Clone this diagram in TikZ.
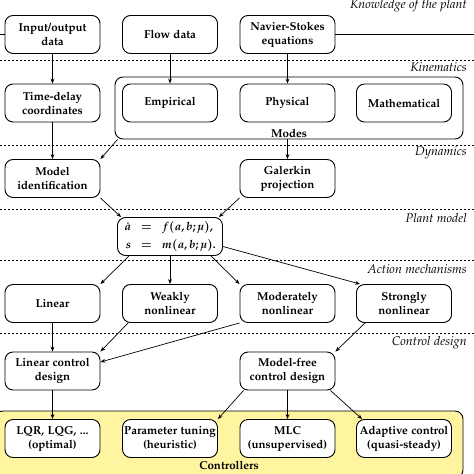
\documentclass[tikz,border=0pt]{standalone}
\usepackage[T1]{fontenc}
\usepackage[sc]{mathpazo}
\usetikzlibrary{arrows.meta}
\definecolor{ctrlyellow}{RGB}{255,245,160}
\begin{document}
\begin{tikzpicture}[x=1pt,y=-1pt,
  box/.style={draw,line width=0.9pt,rounded corners=8pt,fill=white,
    minimum width=95pt,minimum height=38pt,align=center,inner sep=1pt,
    font=\fontsize{11.5}{14}\selectfont\bfseries},
  group/.style={draw,line width=0.9pt,rounded corners=8pt,inner sep=0pt},
  layer/.style={anchor=east,inner sep=0pt,font=\fontsize{12.5}{14}\selectfont\itshape},
  sep/.style={line width=0.8pt,dash pattern=on 2.4pt off 1.6pt},
  arr/.style={-{Stealth[length=5pt,width=3.8pt]},line width=0.7pt}]
\useasboundingbox (0,0) rectangle (474,474);

\coordinate (inL) at (0,34.5);
\coordinate (outR) at (474,34.5);

% layers
\foreach \y in {60,145,209,260,333}
  \draw[sep] (0,\y) -- (474,\y);

\node[layer] (lknow) at (467,6) {Knowledge of the plant};
\node[layer] (lkin) at (467,67) {Kinematics};
\node[layer] (ldyn) at (467,153) {Dynamics};
\node[layer] (lplant) at (467,218) {Plant model};
\node[layer] (lact) at (467,269) {Action mechanisms};
\node[layer] (lctrl) at (467,343) {Control design};

% groups
\node[group,minimum width=348pt,minimum height=62pt] (modes) at (289,108) {};
\node[anchor=south,inner sep=2pt,font=\fontsize{11.5}{14}\selectfont\bfseries] (modeslbl) at (modes.south) {Modes};
\node[group,fill=ctrlyellow,minimum width=468pt,minimum height=67pt] (ctrl) at (229,444.5) {};
\node[font=\fontsize{11.5}{14}\selectfont\bfseries] (ctrllbl) at (229,465) {Controllers};

% boxes
\node[box] (io) at (52.5,34.5) {Input/output\\data};
\node[box] (flow) at (170,34.5) {Flow data};
\node[box] (ns) at (287.5,34.5) {Navier-Stokes\\equations};

\node[box] (td) at (52.5,103) {Time-delay\\coordinates};
\node[box] (emp) at (170,103) {Empirical};
\node[box] (phys) at (287.5,103) {Physical};
\node[box] (math) at (404,103) {Mathematical};

\node[box] (mid) at (52.5,178.5) {Model\\identification};
\node[box] (gal) at (287.5,178.5) {Galerkin\\projection};

\node[box,minimum width=105pt,font=\fontsize{11.5}{14}\selectfont\boldmath] (eq) at (170,236.5)
  {$\begin{array}{@{}r@{\hspace{10pt}}c@{\hspace{10pt}}l@{}}
    \dot{a} & = & f(a,b;\mu),\\[4pt]
    s & = & m(a,b;\mu).
  \end{array}$};

\node[box] (lin) at (52.5,303.5) {Linear};
\node[box] (weak) at (170,303.5) {Weakly\\nonlinear};
\node[box] (mod) at (287.5,303.5) {Moderately\\nonlinear};
\node[box] (strong) at (404,303.5) {Strongly\\nonlinear};

\node[box] (lcd) at (52.5,371) {Linear control\\design};
\node[box] (mfc) at (287.5,371) {Model-free\\control design};

\node[box] (lqr) at (52.5,438.5) {LQR, LQG, ...\\(optimal)};
\node[box] (param) at (170,438.5) {Parameter tuning\\(heuristic)};
\node[box] (mlc) at (287.5,438.5) {MLC\\(unsupervised)};
\node[box] (adapt) at (404,438.5) {Adaptive control\\(quasi-steady)};

% connectors
\draw[line width=0.7pt] (inL) -- (io.west);
\draw[line width=0.7pt] (ns.east) -- (outR);

\draw[arr] (io) -- (td);
\draw[arr] (flow) -- (emp);
\draw[arr] (ns) -- (phys);
\draw[arr] (td) -- (mid);
\draw[arr] ([xshift=3pt]modes.south west) -- (mid.north east);
\draw[arr] (modes.south -| gal.north) -- (gal.north);
\draw[arr] (mid.south east) -- ([xshift=4pt]eq.north west);
\draw[arr] (gal.south west) -- ([xshift=-4pt]eq.north east);

\draw[arr] ([xshift=12pt]eq.south west) -- (lin.north east);
\draw[arr] (eq) -- (weak);
\draw[arr] ([xshift=-12pt]eq.south east) -- (mod.north west);
\draw[arr] ([yshift=-10pt]eq.east) -- ([xshift=4pt]strong.north west);

\draw[arr] (lin) -- (lcd);
\draw[arr] ([xshift=6pt]weak.south west) -- (lcd.north east);
\draw[arr] (mod.south west) -- ([yshift=9pt]lcd.east);
\draw[arr] ([xshift=9pt]strong.south west) -- (mfc.north east);

\draw[arr] (lcd) -- (lqr);
\draw[arr] ([xshift=4pt]mfc.south west) -- (param.north east);
\draw[arr] (mfc) -- (mlc);
\draw[arr] ([xshift=-5pt]mfc.south east) -- ([xshift=6pt]adapt.north west);
\end{tikzpicture}
\end{document}
